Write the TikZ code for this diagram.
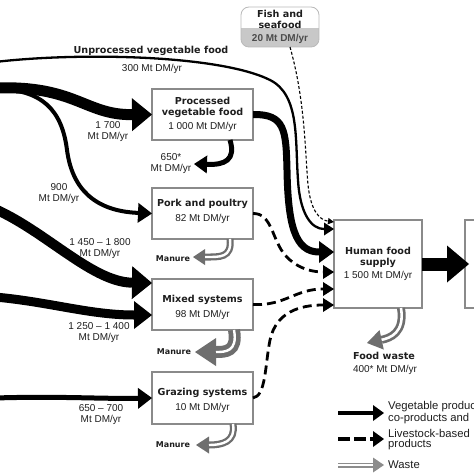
\documentclass[tikz,border=0pt]{standalone}
\usepackage{fontspec}
\setmainfont{Liberation Sans}
\newfontfamily\dvfont{DejaVu Sans}
\usetikzlibrary{arrows.meta}
\definecolor{boxline}{HTML}{8A8A8A}
\definecolor{wastegray}{HTML}{6E6E6E}
\definecolor{legwaste}{HTML}{8C8C8C}
\definecolor{txt}{HTML}{1E1E1E}
\definecolor{fishgray}{HTML}{C8C8C8}
\tikzset{
  box/.style={draw=boxline, line width=1.1pt, fill=white, minimum width=101pt, minimum height=51pt, inner sep=0pt, outer sep=0pt},
  ttl/.style={font=\dvfont\bfseries\fontsize{9.6}{11}\selectfont, align=center, inner sep=0pt, text=txt},
  num/.style={font=\fontsize{10}{11}\selectfont, align=center, inner sep=0pt, text=txt},
  man/.style={font=\dvfont\bfseries\fontsize{8}{9}\selectfont, inner sep=0pt, text=txt},
  leg/.style={font=\fontsize{11.3}{12}\selectfont, inner sep=0pt, anchor=west, text=txt},
  ahead/.style 2 args={-{Triangle[length=#1,width=#2,line width=0pt]}},
  dashflow/.style={draw=black, line width=2.8pt, dash pattern=on 9pt off 5pt, ahead={11pt}{14pt}},
  waste/.style n args={5}{draw=#5, line width=#1, -{Triangle[length=#3,width=#4,line width=0pt]},
     postaction={draw=white, line width=#2, arrows=-, shorten >=#3}}
}
\begin{document}
\begin{tikzpicture}[x=1pt,y=-1pt]
\useasboundingbox (0,0) rectangle (474,474);
\clip (0,0) rectangle (474,474);
\fill[white] (0,0) rectangle (474,474);

% boxes
\node[box] (pv) at (202.5,114.5) {};
\node[box] (pk) at (202.5,213.5) {};
\node[box] (mx) at (202.5,304.5) {};
\node[box,minimum height=52pt] (gz) at (202.5,398) {};
\node[box,minimum width=88pt,minimum height=88pt] (hf) at (378,264) {};
\node[box,minimum width=40pt,minimum height=88pt,anchor=west] (rb) at (465,264) {};

% fish box
\begin{scope}
\clip[rounded corners=8pt] (241,7) rectangle (319,47);
\fill[white] (241,7) rectangle (319,47);
\fill[fishgray] (241,28) rectangle (319,47);
\end{scope}
\node[draw=fishgray!80!gray, line width=0.8pt, rounded corners=8pt, minimum width=78pt, minimum height=40pt, inner sep=0pt] (fish) at (280,27) {};

% box texts
\node[ttl] (pvT) at (202.5,107.5) {Processed\\vegetable food};
\node[num] (pvN) at (202.5,127) {1 000 Mt DM/yr};
\node[ttl] (pkT) at (202.5,204) {Pork and poultry};
\node[num] (pkN) at (202.5,219) {82 Mt DM/yr};
\node[ttl] (mxT) at (202.5,300) {Mixed systems};
\node[num] (mxN) at (202.5,315) {98 Mt DM/yr};
\node[ttl] (gzT) at (202.5,393) {Grazing systems};
\node[num] (gzN) at (202.5,408) {10 Mt DM/yr};
\node[ttl] (hfT) at (378,257.5) {Human food\\supply};
\node[num] (hfN) at (378,276) {1 500 Mt DM/yr};
\node[ttl] (fishT) at (280,19.5) {Fish and\\seafood};
\node[num, text=black!70] (fishN) at (280,39) {\bfseries 20 Mt DM/yr};

% flow labels
\node[ttl] (unT) at (151,51) {Unprocessed vegetable food};
\node[num] (unN) at (152,69) {300 Mt DM/yr};
\node[num] (l1) at (108,131.5) {1 700\\Mt DM/yr};
\node[num] (l2) at (171,163.5) {650*\\Mt DM/yr};
\node[num] (l3) at (59,193.5) {900\\Mt DM/yr};
\node[num] (l4) at (100,249) {1 450 – 1 800\\Mt DM/yr};
\node[num] (l5) at (99,333) {1 250 – 1 400\\Mt DM/yr};
\node[num] (l6) at (101,415) {650 – 700\\Mt DM/yr};
\node[man] (m1) at (173,259) {Manure};
\node[man] (m2) at (174,352) {Manure};
\node[man] (m3) at (173,445) {Manure};
\node[ttl] (fwT) at (384,356) {Food waste};
\node[num] (fwN) at (385,370) {400* Mt DM/yr};

% coordinates
\coordinate (s1) at (-5,62);
\coordinate (s2) at (-5,88);
\coordinate (s3) at (-5,89);
\coordinate (s4) at (-15,205);
\coordinate (s5) at (-5,297);
\coordinate (s6) at (-5,398);
\coordinate (e4) at (152,283);
\coordinate (e5) at (152,315);
\coordinate (h0) at (334,222);
\coordinate (h1) at (334,229);
\coordinate (h2) at (334,252);
\coordinate (h3) at (334,272);
\coordinate (h4) at (334,289);
\coordinate (h5) at (334,305);
\coordinate (fs) at (290,47);
\coordinate (w0s) at (230,140);
\coordinate (w0e) at (194,164);
\coordinate (w1s) at (230,239);
\coordinate (w1e) at (193,257);
\coordinate (w2s) at (234,330);
\coordinate (w2e) at (195,352);
\coordinate (w3s) at (233,424);
\coordinate (w3e) at (196,445);
\coordinate (w4s) at (401,308);
\coordinate (w4e) at (367,343);

% flows from left
\draw[line width=2.3pt, ahead={10pt}{13pt}] (s1) .. controls (80,52) and (220,55) .. (270,80) .. controls (300,95) and (295,140) .. (298,180) .. controls (300,215) and (312,229) .. (h1);
\draw[line width=11pt, ahead={20pt}{33pt}] (s2) .. controls (75,85) and (85,115) .. (pv.west);
\draw[line width=4pt, ahead={14pt}{20pt}] (s3) .. controls (42,89) and (62,110) .. (67,150) .. controls (72,188) and (94,211) .. (pk.west);
\draw[line width=10pt, ahead={20pt}{33pt}] (s4) .. controls (40,225) and (90,282) .. (e4);
\draw[line width=9pt, ahead={18pt}{28pt}] (s5) .. controls (50,302) and (90,315) .. (e5);
\draw[line width=5pt, ahead={14pt}{21pt}] (s6) .. controls (60,396) and (100,399) .. (gz.west);

% to human food supply
\draw[line width=7pt, ahead={15pt}{22pt}] (pv.east) .. controls (285,114) and (286,130) .. (287,170) .. controls (288,225) and (295,252) .. (h2);
\draw[dashflow] (pk.east) .. controls (272,213) and (272,240) .. (285,255) .. controls (298,270) and (315,272) .. (h3);
\draw[dashflow] (mx.east) .. controls (285,306) and (295,289) .. (h4);
\draw[dashflow] (gz.east) .. controls (266,396) and (265,365) .. (270,340) .. controls (276,312) and (300,305) .. (h5);
\draw[line width=1.1pt, dash pattern=on 3pt off 2pt, ahead={6pt}{6.5pt}] (fs) .. controls (305,100) and (305,150) .. (308,185) .. controls (311,212) and (320,220) .. (h0);

% 650* arrow
\draw[line width=5pt, ahead={13pt}{18pt}] (w0s) .. controls (236,160) and (225,165) .. (w0e);

% waste arrows
\draw[waste={7pt}{2.4pt}{12pt}{16pt}{wastegray}] (w1s) .. controls (232,258) and (220,257) .. (w1e);
\draw[waste={12pt}{2.4pt}{21pt}{28pt}{wastegray}] (w2s) .. controls (238,352) and (225,352) .. (w2e);
\draw[waste={7pt}{2.4pt}{13pt}{17pt}{wastegray}] (w3s) .. controls (236,442) and (222,445) .. (w3e);
\draw[waste={8pt}{2.6pt}{15pt}{20pt}{wastegray}] (w4s) .. controls (405,333) and (390,338) .. (w4e);

% to right box
\draw[line width=13pt, ahead={22pt}{37pt}] (hf.east) -- ([xshift=4pt]rb.west);

% legend
\coordinate (la1) at (338,413); \coordinate (lb1) at (384,413);
\coordinate (la2) at (338,439); \coordinate (lb2) at (384,439);
\coordinate (la3) at (338,465); \coordinate (lb3) at (384,465);
\draw[line width=4.5pt, ahead={11pt}{16pt}] (la1) -- (lb1);
\draw[line width=4.5pt, dash pattern=on 12pt off 4pt, ahead={11pt}{16pt}] (la2) -- (lb2);
\draw[waste={5pt}{1.4pt}{11pt}{15pt}{legwaste}] (la3) -- (lb3);
\node[leg] (t1) at (388,407) {Vegetable products,};
\node[leg] (t2) at (388,419) {co-products and};
\node[leg] (t3) at (388,433) {Livestock-based};
\node[leg] (t4) at (388,445) {products};
\node[leg] (t5) at (388,465) {Waste};
\end{tikzpicture}
\end{document}
